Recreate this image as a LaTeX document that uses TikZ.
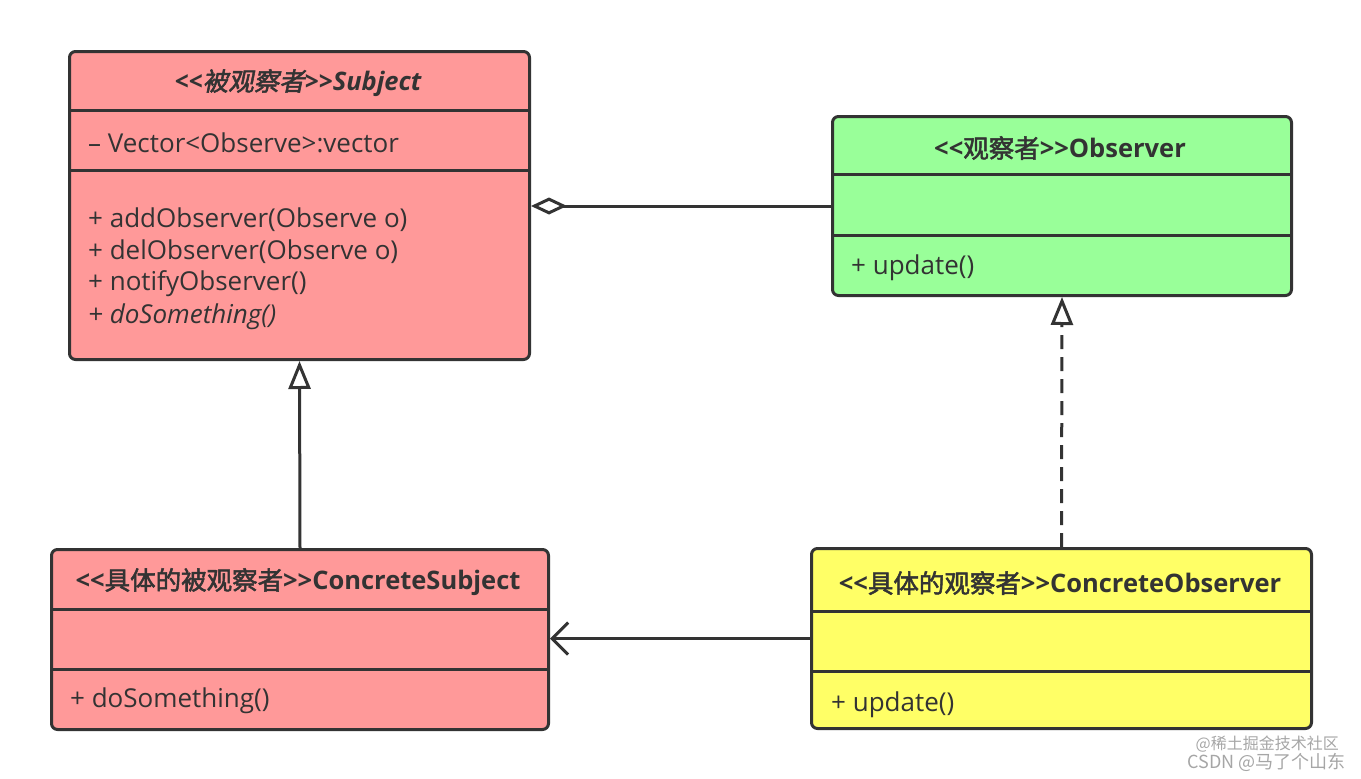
\documentclass[tikz,border=0pt]{standalone}
\usepackage{fontspec}
\setmainfont{Open Sans}[Ligatures=TeXOff]
\newfontfamily\cjk{Noto Sans CJK SC}[BoldFont={Noto Sans CJK SC},BoldFeatures={FakeBold=2},
  ItalicFont={Noto Sans CJK SC},ItalicFeatures={FakeSlant=0.2},
  BoldItalicFont={Noto Sans CJK SC},BoldItalicFeatures={FakeBold=2,FakeSlant=0.2}]
\usetikzlibrary{arrows.meta}
\definecolor{ink}{HTML}{333333}
\definecolor{clsred}{HTML}{FF9999}
\definecolor{clsgreen}{HTML}{99FF99}
\definecolor{clsyellow}{HTML}{FFFF66}
\begin{document}
\begin{tikzpicture}[x=1pt, y=-1pt,
        every node/.style={font=\fontsize{26}{30}\selectfont, text=ink},
        box/.style={draw=ink, line width=3pt, rounded corners=6pt, inner sep=0pt, anchor=north west},
        redn/.style={box, fill=clsred},
        greenn/.style={box, fill=clsgreen},
        yellown/.style={box, fill=clsyellow},
        title/.style={font=\fontsize{25.5}{30}\selectfont\bfseries, inner sep=0pt},
        member/.style={anchor=west, inner sep=0pt},
        sep/.style={draw=ink, line width=3pt},
        line/.style={draw=ink, line width=3pt},
    ]
    \useasboundingbox (0,0) rectangle (1361,779);
    % classes
    \node[redn, minimum width=460pt, minimum height=308pt] (subject) at (68,50) {};
    \node[greenn, minimum width=459pt, minimum height=179pt] (observer) at (831,115) {};
    \node[redn, minimum width=497pt, minimum height=180pt] (csubject) at (50,548) {};
    \node[yellown, minimum width=500pt, minimum height=180pt] (cobserver) at (810,547) {};
    % compartments
    \draw[sep] (68,110) -- (528,110);
    \draw[sep] (68,170) -- (528,170);
    \draw[sep] (831,174) -- (1290,174);
    \draw[sep] (831,235) -- (1290,235);
    \draw[sep] (50,609) -- (547,609);
    \draw[sep] (50,669) -- (547,669);
    \draw[sep] (810,611) -- (1310,611);
    \draw[sep] (810,671) -- (1310,671);
    % texts
    \node[title] (subjectname) at (298,83) {\itshape <<{\cjk 被观察者}>>Subject};
    \node[member] (vec) at (88,143) {– Vector<Observe>:vector};
    \node[member] (add) at (88,220) {+ addObserver(Observe o)};
    \node[member] (del) at (88,252) {+ delObserver(Observe o)};
    \node[member] (notify) at (88,284) {+ notifyObserver()};
    \node[member] (dosome) at (88,317) {\itshape + doSomething()};
    \node[title] (observername) at (1060,148) {<<{\cjk 观察者}>>Observer};
    \node[member] (upd) at (851,268) {+ update()};
    \node[title] (csubjectname) at (298,582) {<<{\cjk 具体的被观察者}>>ConcreteSubject};
    \node[member] (cdosome) at (70,701) {+ doSomething()};
    \node[title] (cobservername) at (1060,583) {<<{\cjk 具体的观察者}>>ConcreteObserver};
    \node[member] (cupd) at (831,705) {+ update()};
    % relations
    \draw[line, -{Diamond[open, length=36pt, width=17pt]}] (observer.west) -- (subject.east |- observer.west);
    \draw[line, -{Triangle[open, length=28pt, width=22pt]}] (csubject.north) -- (subject.south);
    \draw[line, dash pattern=on 14pt off 8pt, -{Triangle[open, length=28pt, width=22pt]}] (cobserver.north) -- (observer.south);
    \draw[line, -{Straight Barb[length=16pt, width=32pt]}] (cobserver.west) -- (csubject.east |- cobserver.west);
    % watermark
    \node[anchor=east, inner sep=0pt, text=black!35, font=\fontsize{16}{16}\selectfont\cjk] (mark1) at (1339,744) {@稀土掘金技术社区};
    \node[anchor=east, inner sep=0pt, text=black!35, font=\fontsize{18}{18}\selectfont\cjk] (mark2) at (1346,762) {CSDN @马了个山东};
\end{tikzpicture}
\end{document}
